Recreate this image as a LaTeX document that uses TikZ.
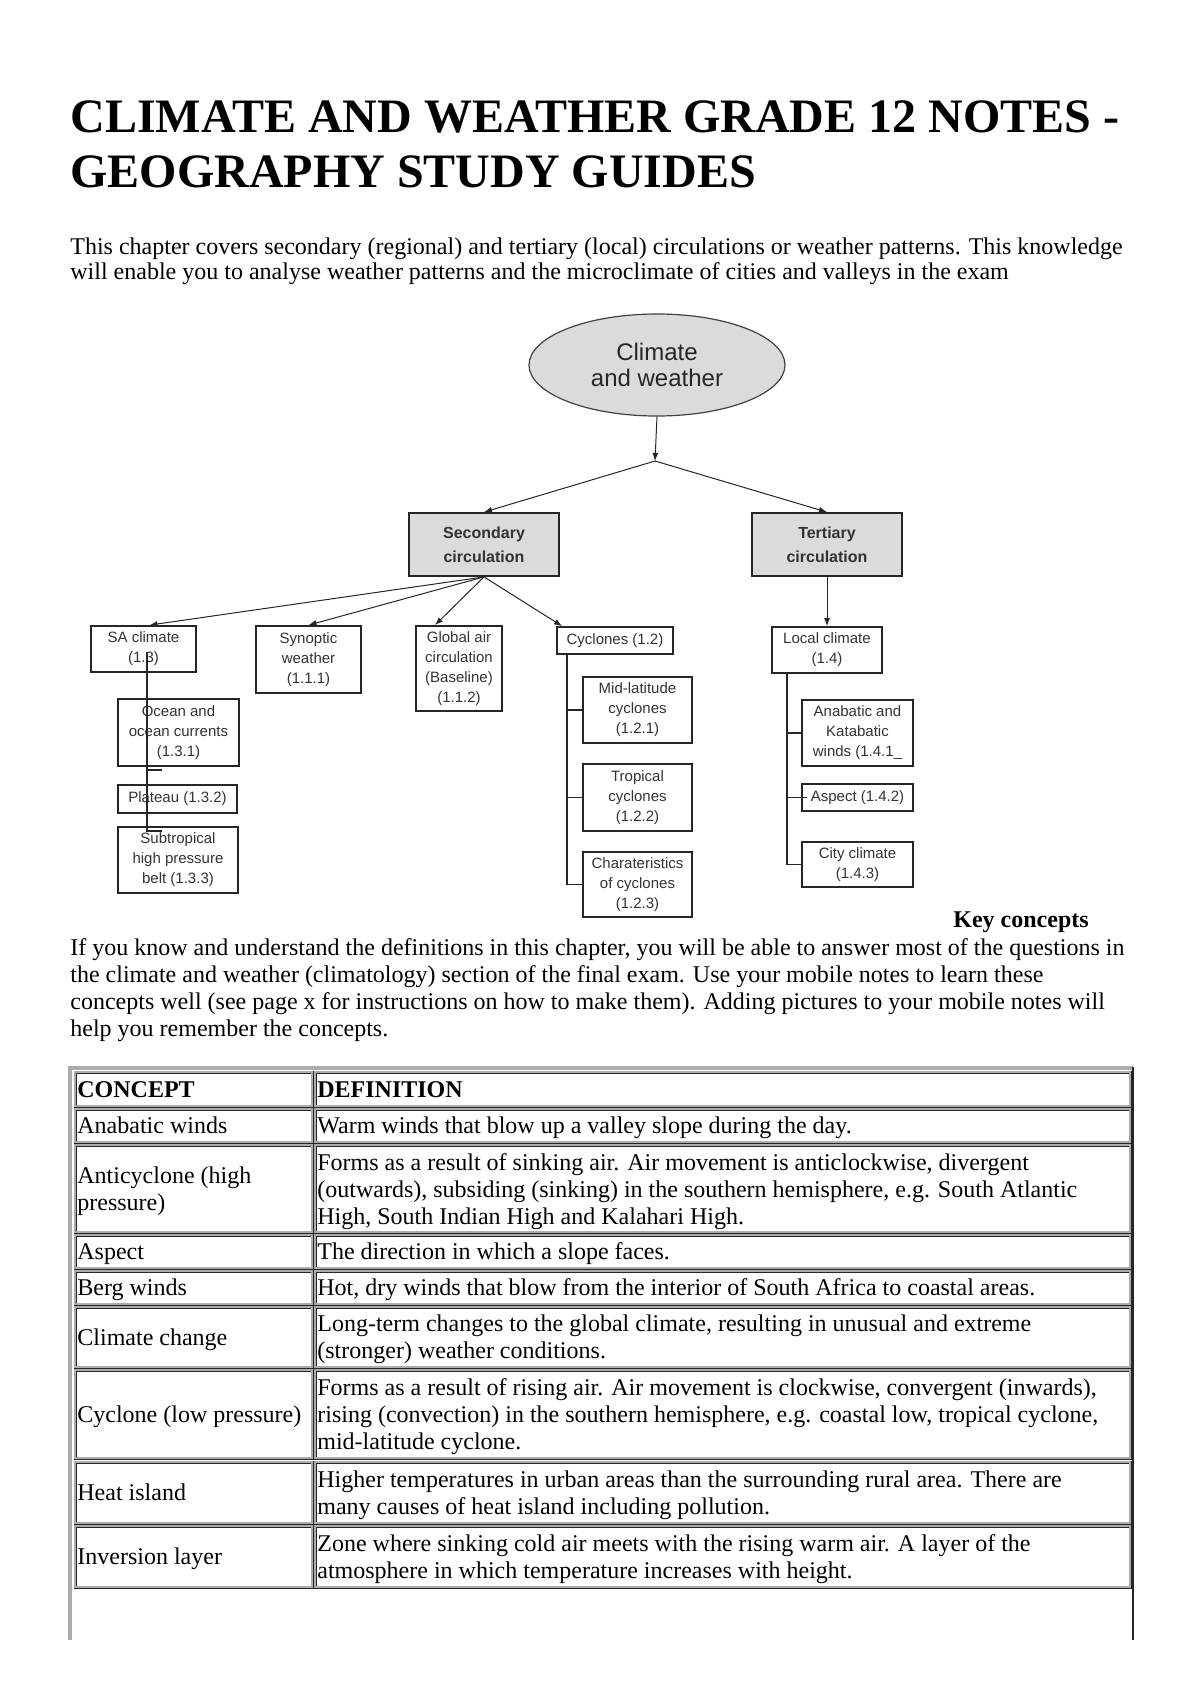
\documentclass[tikz,border=0pt]{standalone}
\usepackage{fontspec}
\setmainfont{Liberation Serif}
\newfontfamily\diagfont{Liberation Sans}
\usetikzlibrary{shapes.geometric,arrows.meta}

\tikzset{
    leaf/.style={draw=black!85, line width=0.9pt, inner sep=0pt, align=center, text=black!80,
        font=\diagfont\fontsize{7.5}{10}\selectfont},
    branch/.style={draw=black!85, line width=0.9pt, fill=gray!28, inner sep=0pt, align=center, text=black!80,
        font=\diagfont\bfseries\fontsize{8}{12}\selectfont, minimum width=75pt, minimum height=31.5pt},
    topic/.style={ellipse, draw=black!75, line width=0.6pt, fill=gray!28, inner sep=0pt, align=center,
        text=black!85, font=\diagfont\fontsize{12}{13}\selectfont, minimum width=128pt, minimum height=51pt},
    arr/.style={-{Latex[length=4pt,width=3pt]}, line width=0.5pt, black!85},
    trunk/.style={line width=0.7pt, black!85},
    cellrim/.style={draw=black!85, line width=0.45pt, double=gray!65, double distance=0.6pt},
    prose/.style={anchor=base west, align=left, inner sep=0pt, font=\fontsize{12}{12.5}\selectfont},
    cell/.style={anchor=base west, align=left, inner sep=0pt, font=\fontsize{12}{13.5}\selectfont}
}

\begin{document}
\begin{tikzpicture}[x=0.5pt, y=-0.5pt]
    \useasboundingbox (0,0) rectangle (1200,1698);

    % heading and introduction (base = last line)
    \node[prose, font=\bfseries\fontsize{24}{27.5}\selectfont] (title) at (70,187)
        {CLIMATE AND WEATHER GRADE 12 NOTES -\\GEOGRAPHY STUDY GUIDES};
    \node[prose] (intro) at (70,279.5)
        {This chapter covers secondary (regional) and tertiary (local) circulations or weather patterns. This knowledge\\
         will enable you to analyse weather patterns and the microclimate of cities and valleys in the exam};

    % concept map
    \node[topic] (clim) at (657,365) {Climate\\and weather};
    \coordinate (split) at (655,461);
    \node[branch] (sec) at (484,544.5) {Secondary\\circulation};
    \node[branch] (ter) at (827,544.5) {Tertiary\\circulation};

    \node[leaf, minimum width=52.5pt, minimum height=23pt] (sa) at (143.5,649) {SA climate\\(1.3)};
    \node[leaf, minimum width=52.5pt, minimum height=33.5pt] (syn) at (308.5,659.5) {Synoptic\\weather\\(1.1.1)};
    \node[leaf, minimum width=43pt, minimum height=42.5pt] (glo) at (459,668.5) {Global air\\circulation\\(Baseline)\\(1.1.2)};
    \node[leaf, minimum width=58pt, minimum height=13.5pt] (cyc) at (615,640.5) {Cyclones (1.2)};
    \node[leaf, minimum width=55pt, minimum height=23pt] (loc) at (827,650) {Local climate\\(1.4)};

    \node[leaf, minimum width=60.5pt, minimum height=33.5pt] (oce) at (178.5,732.5) {Ocean and\\ocean currents\\(1.3.1)};
    \node[leaf, minimum width=59.5pt, minimum height=14pt] (pla) at (177.5,799) {Plateau (1.3.2)};
    \node[leaf, minimum width=60pt, minimum height=33pt] (sub) at (178,860) {Subtropical\\high pressure\\belt (1.3.3)};

    \node[leaf, minimum width=54.5pt, minimum height=33pt] (mid) at (637.5,710) {Mid-latitude\\cyclones\\(1.2.1)};
    \node[leaf, minimum width=54.5pt, minimum height=33.5pt] (tro) at (637.5,797.5) {Tropical\\cyclones\\(1.2.2)};
    \node[leaf, minimum width=54.5pt, minimum height=32.5pt] (chr) at (637.5,884.5) {Charateristics\\of cyclones\\(1.2.3)};

    \node[leaf, minimum width=55.5pt, minimum height=33pt] (ana) at (857.5,733) {Anabatic and\\Katabatic\\winds (1.4.1\_};
    \node[leaf, minimum width=55.5pt, minimum height=13.5pt] (asp) at (857.5,797.5) {Aspect (1.4.2)};
    \node[leaf, minimum width=55.5pt, minimum height=22.5pt] (city) at (857.5,864.5) {City climate\\(1.4.3)};

    \draw[arr] (clim.south) -- (split);
    \draw[arr] (split) -- (sec.north);
    \draw[arr] (split) -- (ter.north);
    \draw[arr] (sec.south) -- ([xshift=3pt]sa.north);
    \draw[arr] (sec.south) -- (syn.north);
    \draw[arr] (sec.south) -- ([xshift=-12pt]glo.north);
    \draw[arr] (sec.south) -- ([xshift=3pt]cyc.north west);
    \draw[arr] (ter.south) -- (loc.north);

    % tree lines
    \coordinate (saTop) at (147,652);
    \coordinate (saTick) at (162,770);
    \coordinate (saEnd) at (162,831);
    \draw[trunk] (saTop) |- (saEnd);
    \draw[trunk] (saTop |- saTick) -- (saTick);

    \coordinate (cycTrunk) at ([xshift=5.5pt]cyc.south west);
    \draw[trunk] (cycTrunk) |- (chr.west);
    \draw[trunk] (cycTrunk |- mid.west) -- (mid.west);
    \draw[trunk] (cycTrunk |- tro.west) -- (tro.west);

    \coordinate (locTrunk) at ([xshift=8pt]loc.south west);
    \draw[trunk] (locTrunk) |- (city.west);
    \draw[trunk] (locTrunk |- ana.west) -- (ana.west);
    \draw[trunk] (locTrunk |- asp.west) -- ([xshift=3pt]asp.west);

    % key concepts
    \node[prose, font=\bfseries\fontsize{12}{13.5}\selectfont] (keyhead) at (953,927) {Key concepts};
    \node[prose, font=\fontsize{12}{13.5}\selectfont] (keypara) at (70,1036)
        {If you know and understand the definitions in this chapter, you will be able to answer most of the questions in\\
         the climate and weather (climatology) section of the final exam. Use your mobile notes to learn these\\
         concepts well (see page x for instructions on how to make them). Adding pictures to your mobile notes will\\
         help you remember the concepts.};

    % table
    \draw[line width=1.6pt, gray!65] (70,1640) -- (70,1068) -- (1133,1068);
    \draw[line width=1.2pt, black!85] (1133,1067) -- (1133,1640);
    \foreach \ya/\yb in {1072/1106, 1109/1142, 1145/1232, 1235/1268, 1271/1304,
                         1307/1367, 1370/1458, 1462/1523, 1526/1587} {
        \draw[cellrim] (75,\ya) rectangle (312,\yb);
        \draw[cellrim] (315,\ya) rectangle (1130,\yb);
    }

    \node[cell, font=\bfseries\fontsize{12}{13.5}\selectfont] (hdrC) at (77,1097) {CONCEPT};
    \node[cell, font=\bfseries\fontsize{12}{13.5}\selectfont] (hdrD) at (317,1097) {DEFINITION};

    \node[cell] (anaC) at (77,1133.5) {Anabatic winds};
    \node[cell] (anaD) at (317,1133.5) {Warm winds that blow up a valley slope during the day.};

    \node[cell] (antiC) at (77,1210) {Anticyclone (high\\pressure)};
    \node[cell] (antiD) at (317,1224.5)
        {Forms as a result of sinking air. Air movement is anticlockwise, divergent\\
         (outwards), subsiding (sinking) in the southern hemisphere, e.g. South Atlantic\\
         High, South Indian High and Kalahari High.};

    \node[cell] (aspC) at (77,1259.5) {Aspect};
    \node[cell] (aspD) at (317,1259.5) {The direction in which a slope faces.};

    \node[cell] (bergC) at (77,1295.5) {Berg winds};
    \node[cell] (bergD) at (317,1295.5) {Hot, dry winds that blow from the interior of South Africa to coastal areas.};

    \node[cell] (ccC) at (77,1345) {Climate change};
    \node[cell] (ccD) at (317,1358.5)
        {Long-term changes to the global climate, resulting in unusual and extreme\\
         (stronger) weather conditions.};

    \node[cell] (cycC) at (77,1422) {Cyclone (low pressure)};
    \node[cell] (cycD) at (317,1449)
        {Forms as a result of rising air. Air movement is clockwise, convergent (inwards),\\
         rising (convection) in the southern hemisphere, e.g. coastal low, tropical cyclone,\\
         mid-latitude cyclone.};

    \node[cell] (heatC) at (77,1500.5) {Heat island};
    \node[cell] (heatD) at (317,1514)
        {Higher temperatures in urban areas than the surrounding rural area. There are\\
         many causes of heat island including pollution.};

    \node[cell] (invC) at (77,1564.5) {Inversion layer};
    \node[cell] (invD) at (317,1578)
        {Zone where sinking cold air meets with the rising warm air. A layer of the\\
         atmosphere in which temperature increases with height.};
\end{tikzpicture}
\end{document}
